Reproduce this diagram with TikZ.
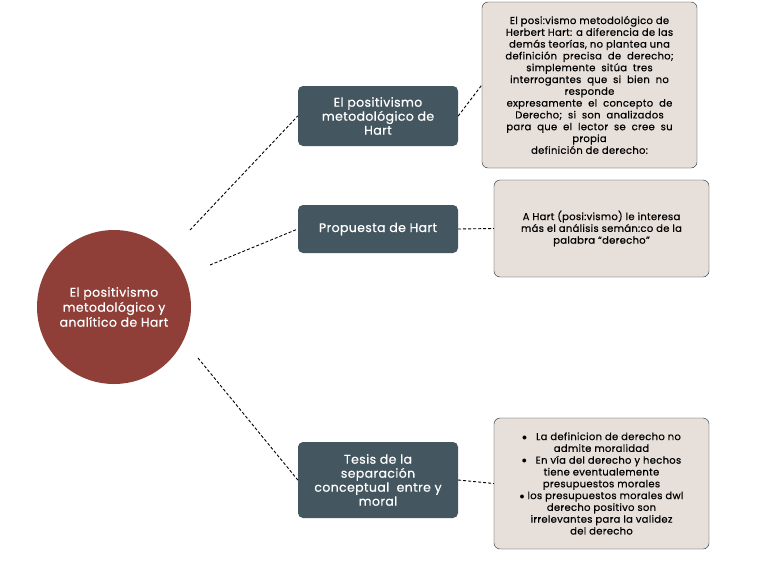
\documentclass[tikz,border=0pt]{standalone}
\usepackage{fontspec}
\setmainfont{Poppins}[LetterSpace=3,FakeBold=0.5]
\begin{document}
\begin{tikzpicture}[x=1pt,y=-1pt,
  topic/.style={draw=none,fill=topicc,rounded corners=5pt,text=white,align=center,inner sep=2pt,font=\fontsize{12.5}{14}\selectfont},
  note/.style={draw=black!85,fill=notec,rounded corners=6pt,align=center,inner sep=2pt,font=\fontsize{10}{11.8}\selectfont},
  link/.style={dashed,line width=0.9pt,black,dash pattern=on 3pt off 2pt}]
\definecolor{topicc}{HTML}{44565F}
\definecolor{notec}{HTML}{E6DFDA}
\definecolor{rootc}{HTML}{8F3F37}
\useasboundingbox (0,0) rectangle (768,576);
\fill[white] (0,0) rectangle (768,576);
\node[circle,fill=rootc,minimum size=154pt,text=white,align=center,font=\fontsize{12.5}{15}\selectfont] (root) at (114,307) {El positivismo\\ metodológico y\\analítico de Hart};
\node[topic,minimum width=160pt,minimum height=60pt] (t1) at (378,116) {El positivismo\\metodológico de\\Hart};
\node[topic,minimum width=160pt,minimum height=48pt] (t2) at (378,229) {Propuesta de Hart};
\node[topic,minimum width=160pt,minimum height=76pt] (t3) at (378,480) {Tesis de la\\separación\\conceptual\ \ entre y\\moral};
\node[note,minimum width=215pt,minimum height=166pt] (n1) at (589.5,85) {El posi:vismo metodológico de\\Herbert Hart: a diferencia de las\\demás teorías, no plantea una\\definición\ \ precisa\ \ de\ \ derecho;\\simplemente\ \ sitúa\ \ tres\\interrogantes\ \ que\ \ si\ \ bien\ \ no\\responde\\expresamente\ \ el\ \ concepto\ \ de\\Derecho;\ \ si\ \ son\ \ analizados\\para\ \ que\ \ el\ \ lector\ \ se\ \ cree\ \ su\\propia\\definición de derecho:};
\node[note,minimum width=215pt,minimum height=97pt] (n2) at (601.5,228.5) {A Hart (posi:vismo) le interesa\\más el análisis semán:co de la\\palabra “derecho”};
\node[note,minimum width=215pt,minimum height=131pt] (n3) at (601.5,483.5) {$\bullet$\ \ \ La definicion de derecho no\\admite moralidad\\$\bullet$\ \ \ En vía del derecho y hechos\\tiene eventualemente\\presupuestos morales\\$\bullet$\ los presupuestos morales dwl\\derecho positivo son\\irrelevantes para la validez\\del derecho};
\coordinate (r1) at (190,230);
\coordinate (r2) at (210,265);
\coordinate (r3) at (198,358);
\draw[link] (r1) -- (t1.west);
\draw[link] (r2) -- (t2.west);
\draw[link] (r3) -- (t3.west);
\draw[link] (t1.east) -- (n1.west);
\draw[link] (t2.east) -- (n2.west);
\draw[link] (t3.east) -- (n3.west);
\end{tikzpicture}
\end{document}
